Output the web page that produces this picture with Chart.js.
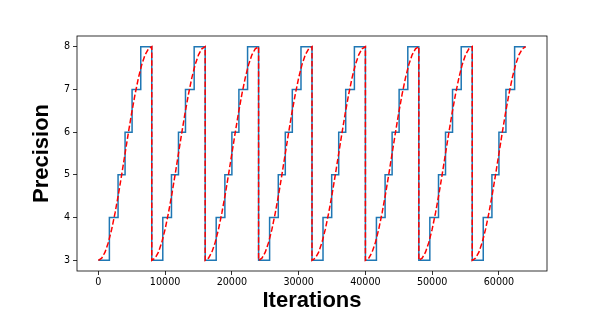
<!DOCTYPE html>
<html>
<head>
<meta charset="utf-8">
<script src="https://cdn.jsdelivr.net/npm/chart.js@4/dist/chart.umd.min.js"></script>
<style>body{margin:0;background:#fff}</style>
</head>
<body>
<canvas id="chart" width="609" height="315"></canvas>
<script>
// cycles of the schedule (iterations)
const cycleStarts = [0, 8000, 16000, 24000, 32000, 40000, 48000, 56000];
const cycleLength = 8000;

// blue staircase: offset inside a cycle where each precision level begins
const stepOffsets = [0, 1650, 2950, 4000, 5050, 6350];
const stepLevels = [3, 4, 5, 6, 7, 8];

// red dashed curve, read every 500 iterations inside a cycle
const curveOffsets = [0, 500, 1000, 1500, 2000, 2500, 3000, 3500, 4000, 4500, 5000, 5500, 6000, 6500, 7000, 7500, 8000];
const curveValues = [3, 3.05, 3.19, 3.42, 3.73, 4.11, 4.54, 5.01, 5.5, 5.99, 6.46, 6.89, 7.27, 7.58, 7.81, 7.95, 8];

const xTicks = [0, 10000, 20000, 30000, 40000, 50000, 60000];
const yTicks = [3, 4, 5, 6, 7, 8];

// build point lists
const stepData = [];
cycleStarts.forEach(start => {
    stepOffsets.forEach((off, i) => stepData.push({x: start + off, y: stepLevels[i]}));
});
stepData.push({x: cycleStarts[cycleStarts.length - 1] + cycleLength, y: stepLevels[stepLevels.length - 1]});

const curveData = [];
cycleStarts.forEach(start => {
    curveOffsets.forEach((off, i) => curveData.push({x: start + off, y: curveValues[i]}));
});

// box around the plot area
const framePlugin = {
    id: 'frame',
    afterDraw(chart) {
        const {ctx, chartArea: a} = chart;
        ctx.save();
        ctx.strokeStyle = '#000';
        ctx.lineWidth = 0.8;
        ctx.strokeRect(a.left, a.top, a.right - a.left, a.bottom - a.top);
        ctx.restore();
    }
};

const tickFont = {family: 'DejaVu Sans', size: 9.6};
const titleFont = {family: 'Liberation Sans', size: 22, weight: 'bold'};

new Chart(document.getElementById('chart'), {
    type: 'line',
    data: {
        datasets: [
            {
                data: curveData,
                borderColor: '#ff0000',
                borderWidth: 1.5,
                borderDash: [5.5, 2.4],
                pointRadius: 0,
                fill: false
            },
            {
                data: stepData,
                borderColor: '#1f77b4',
                borderWidth: 1.5,
                stepped: 'before',
                pointRadius: 0,
                fill: false
            }
        ]
    },
    options: {
        responsive: false,
        animation: false,
        layout: {padding: {top: 36, right: 62, left: 0, bottom: 0}},
        plugins: {legend: {display: false}, tooltip: {enabled: false}},
        scales: {
            x: {
                type: 'linear',
                min: -3200,
                max: 67200,
                afterBuildTicks: s => { s.ticks = xTicks.map(v => ({value: v})); },
                afterFit: s => { s.height = 44; },
                ticks: {font: tickFont, color: '#000', maxRotation: 0, autoSkip: false, padding: 2, callback: v => String(v)},
                grid: {drawOnChartArea: false, drawTicks: true, tickLength: 4, color: '#000', lineWidth: 0.8},
                border: {display: false},
                title: {display: true, text: 'Iterations', font: titleFont, color: '#000', padding: {top: 0, bottom: 0.5}}
            },
            y: {
                type: 'linear',
                min: 2.75,
                max: 8.25,
                afterBuildTicks: s => { s.ticks = yTicks.map(v => ({value: v})); },
                afterFit: s => { s.width = 77; },
                ticks: {font: tickFont, color: '#000', padding: 3, callback: v => String(v)},
                grid: {drawOnChartArea: false, drawTicks: true, tickLength: 4, color: '#000', lineWidth: 0.8},
                border: {display: false},
                title: {display: true, text: 'Precision', font: titleFont, color: '#000', padding: {top: 29, bottom: 0}}
            }
        }
    },
    plugins: [framePlugin]
});
</script>
</body>
</html>
